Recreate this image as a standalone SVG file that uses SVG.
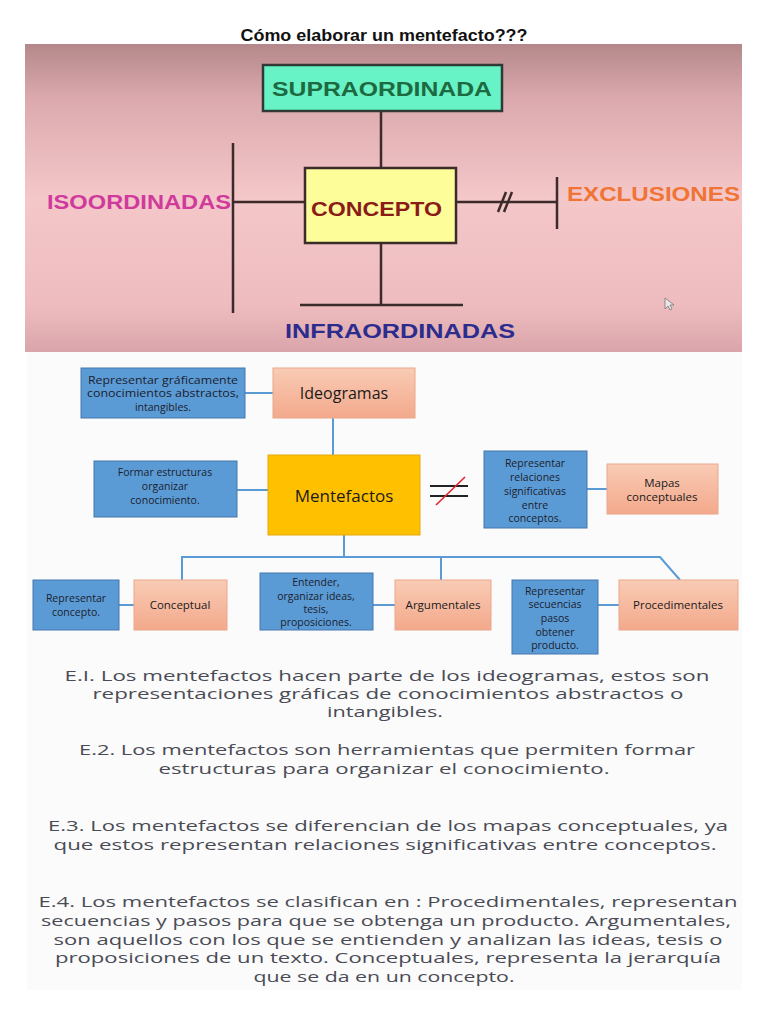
<svg xmlns="http://www.w3.org/2000/svg" width="768" height="1024" viewBox="0 0 768 1024">
<defs>
<linearGradient id="pinkbg" x1="0" y1="0" x2="0" y2="1">
<stop offset="0" stop-color="#b4888a"/>
<stop offset="0.18" stop-color="#dcaaae"/>
<stop offset="0.5" stop-color="#f4c7c9"/>
<stop offset="0.85" stop-color="#eebcbf"/>
<stop offset="1" stop-color="#d9a5aa"/>
</linearGradient>
<linearGradient id="salmon" x1="0" y1="0" x2="0" y2="1">
<stop offset="0" stop-color="#f9cbb5"/>
<stop offset="1" stop-color="#f3a98b"/>
</linearGradient>
<style>
.dk{stroke:#3b2b2b;stroke-width:2.5;fill:none}
.big{font-family:"Liberation Sans",Arial,sans-serif;font-weight:bold;font-size:21px}
.blue{fill:#5b9bd5;stroke:#4677ad;stroke-width:1}
.sal{fill:url(#salmon);stroke:#eaa78c;stroke-width:1}
.con{stroke:#5b9bd5;stroke-width:2;fill:none}
.bt{font-family:"Open Sans","Liberation Sans",sans-serif;font-size:10.5px;fill:#1b1d2e;text-anchor:middle}
.st{font-family:"Open Sans","Liberation Sans",sans-serif;font-size:11.5px;fill:#1a1a1a;text-anchor:middle}
.st16{font-family:"Open Sans","Liberation Sans",sans-serif;font-size:16px;fill:#1a1a1a;text-anchor:middle}
.para{font-family:"Open Sans","Liberation Sans",sans-serif;font-size:15px;fill:#4a4b55;text-anchor:middle}
</style>
</defs>
<rect width="768" height="1024" fill="#ffffff"/>
<text x="384" y="41" text-anchor="middle" font-family="Liberation Sans,Arial,sans-serif" font-weight="bold" font-size="17" fill="#111" textLength="287" lengthAdjust="spacingAndGlyphs">Cómo elaborar un mentefacto???</text>

<!-- top picture -->
<rect x="25" y="44" width="717" height="308" fill="url(#pinkbg)"/>
<g id="connectors-top">
<line class="dk" x1="381" y1="111" x2="381" y2="168"/>
<line class="dk" x1="233" y1="143" x2="233" y2="313"/>
<line class="dk" x1="233" y1="202" x2="305" y2="202"/>
<line class="dk" x1="456" y1="202" x2="557" y2="202"/>
<line class="dk" x1="498" y1="212" x2="506" y2="192"/>
<line class="dk" x1="504" y1="212" x2="512" y2="192"/>
<line class="dk" x1="557" y1="177" x2="557" y2="229"/>
<line class="dk" x1="381" y1="243" x2="381" y2="305"/>
<line class="dk" x1="300" y1="305" x2="463" y2="305"/>
</g>
<g id="supraordinada">
<rect x="263" y="65" width="239" height="46" fill="#67f3c6" stroke="#2e3a33" stroke-width="2.5"/>
<text class="big" x="272" y="96" fill="#1d6a41" textLength="220" lengthAdjust="spacingAndGlyphs">SUPRAORDINADA</text>
</g>
<g id="concepto">
<rect x="305" y="168" width="151" height="75" fill="#fdfd9a" stroke="#3b2b2b" stroke-width="2.5"/>
<text class="big" x="311" y="216" fill="#8a1c18" textLength="131" lengthAdjust="spacingAndGlyphs">CONCEPTO</text>
</g>
<g id="isoordinadas">
<text class="big" x="47" y="209" fill="#cf3a9c" textLength="184" lengthAdjust="spacingAndGlyphs">ISOORDINADAS</text>
</g>
<g id="exclusiones">
<text class="big" x="567" y="201" fill="#f07436" textLength="173" lengthAdjust="spacingAndGlyphs">EXCLUSIONES</text>
</g>
<g id="infraordinadas">
<text class="big" x="285" y="338" fill="#2c2c8e" textLength="230" lengthAdjust="spacingAndGlyphs">INFRAORDINADAS</text>
</g>
<path d="M665 298 L665 309 L668 306 L670 310 L672 309 L670 305 L674 305 Z" fill="#e8e8e8" stroke="#777" stroke-width="0.8"/>

<!-- lower picture -->
<rect x="27" y="352" width="715" height="638" fill="#fbfbfb"/>
<g id="connectors">
<line class="con" x1="245" y1="393" x2="273" y2="393"/>
<line class="con" x1="333" y1="418" x2="333" y2="455"/>
<line class="con" x1="237" y1="490" x2="268" y2="490"/>
<line class="con" x1="587" y1="489" x2="607" y2="489"/>
<line class="con" x1="344" y1="535" x2="344" y2="557"/>
<polyline class="con" points="182,580 182,557 660,557 680,580"/>
<line class="con" x1="441" y1="557" x2="441" y2="580"/>
<line class="con" x1="119" y1="605" x2="134" y2="605"/>
<line class="con" x1="373" y1="605" x2="395" y2="605"/>
<line class="con" x1="598" y1="605" x2="619" y2="605"/>
</g>
<g id="neq">
<line x1="430" y1="486" x2="468" y2="486" stroke="#222" stroke-width="2"/>
<line x1="430" y1="496" x2="468" y2="496" stroke="#222" stroke-width="2"/>
<line x1="436" y1="505" x2="465" y2="477" stroke="#e8202a" stroke-width="1.6"/>
</g>
<g id="b-grafica">
<rect class="blue" x="81" y="368" width="164" height="50"/>
<text class="bt" x="163" y="384" textLength="150" lengthAdjust="spacingAndGlyphs">Representar gráficamente</text>
<text class="bt" x="163" y="397" textLength="152" lengthAdjust="spacingAndGlyphs">conocimientos abstractos,</text>
<text class="bt" x="163" y="411">intangibles.</text>
</g>
<g id="ideogramas">
<rect class="sal" x="273" y="368" width="142" height="50"/>
<text class="st16" x="344" y="399">Ideogramas</text>
</g>
<g id="b-formar">
<rect class="blue" x="94" y="461" width="143" height="56"/>
<text class="bt" x="165" y="476">Formar estructuras</text>
<text class="bt" x="165" y="490">organizar</text>
<text class="bt" x="165" y="504">conocimiento.</text>
</g>
<g id="mentefactos">
<rect x="268" y="455" width="152" height="80" fill="#ffc000" stroke="#e3aa10" stroke-width="1"/>
<text class="st16" x="344" y="502" style="font-size:17px">Mentefactos</text>
</g>
<g id="b-relaciones">
<rect class="blue" x="484" y="451" width="103" height="77"/>
<text class="bt" x="535" y="467">Representar</text>
<text class="bt" x="535" y="481">relaciones</text>
<text class="bt" x="535" y="495">significativas</text>
<text class="bt" x="535" y="509">entre</text>
<text class="bt" x="535" y="522">conceptos.</text>
</g>
<g id="mapas">
<rect class="sal" x="607" y="464" width="111" height="50"/>
<text class="st" x="662" y="487">Mapas</text>
<text class="st" x="662" y="501">conceptuales</text>
</g>
<g id="b-concepto">
<rect class="blue" x="33" y="580" width="86" height="50"/>
<text class="bt" x="76" y="602">Representar</text>
<text class="bt" x="76" y="616">concepto.</text>
</g>
<g id="conceptual">
<rect class="sal" x="134" y="580" width="93" height="50"/>
<text class="st" x="180" y="609">Conceptual</text>
</g>
<g id="b-entender">
<rect class="blue" x="260" y="573" width="113" height="57"/>
<text class="bt" x="316" y="586">Entender,</text>
<text class="bt" x="316" y="600">organizar ideas,</text>
<text class="bt" x="316" y="613">tesis,</text>
<text class="bt" x="316" y="626">proposiciones.</text>
</g>
<g id="argumentales">
<rect class="sal" x="395" y="580" width="96" height="50"/>
<text class="st" x="443" y="609">Argumentales</text>
</g>
<g id="b-secuencias">
<rect class="blue" x="512" y="580" width="86" height="74"/>
<text class="bt" x="555" y="595">Representar</text>
<text class="bt" x="555" y="608">secuencias</text>
<text class="bt" x="555" y="622">pasos</text>
<text class="bt" x="555" y="636">obtener</text>
<text class="bt" x="555" y="649">producto.</text>
</g>
<g id="procedimentales">
<rect class="sal" x="619" y="580" width="119" height="50"/>
<text class="st" x="678" y="609">Procedimentales</text>
</g>

<g id="paragraphs">
<text class="para" x="387" y="681" textLength="645" lengthAdjust="spacingAndGlyphs">E.I.  Los mentefactos hacen parte de los ideogramas, estos son</text>
<text class="para" x="388" y="699" textLength="591" lengthAdjust="spacingAndGlyphs">representaciones gráficas de conocimientos abstractos o</text>
<text class="para" x="385" y="717" textLength="116" lengthAdjust="spacingAndGlyphs">intangibles.</text>
<text class="para" x="387" y="755" textLength="616" lengthAdjust="spacingAndGlyphs">E.2. Los mentefactos son herramientas que permiten formar</text>
<text class="para" x="384" y="774" textLength="451" lengthAdjust="spacingAndGlyphs">estructuras para organizar el conocimiento.</text>
<text class="para" x="388" y="831" textLength="680" lengthAdjust="spacingAndGlyphs">E.3. Los mentefactos se diferencian de los mapas conceptuales, ya</text>
<text class="para" x="385" y="850" textLength="663" lengthAdjust="spacingAndGlyphs">que estos representan relaciones significativas entre conceptos.</text>
<text class="para" x="388" y="907" textLength="699" lengthAdjust="spacingAndGlyphs">E.4. Los mentefactos se clasifican en : Procedimentales, representan</text>
<text class="para" x="386" y="926" textLength="690" lengthAdjust="spacingAndGlyphs">secuencias y pasos para que se obtenga un producto. Argumentales,</text>
<text class="para" x="388" y="945" textLength="669" lengthAdjust="spacingAndGlyphs">son aquellos con los que se entienden y analizan las ideas, tesis o</text>
<text class="para" x="388" y="963" textLength="666" lengthAdjust="spacingAndGlyphs">proposiciones de un texto.  Conceptuales, representa la jerarquía</text>
<text class="para" x="384" y="982" textLength="261" lengthAdjust="spacingAndGlyphs">que se da en un concepto.</text>
</g>
</svg>
